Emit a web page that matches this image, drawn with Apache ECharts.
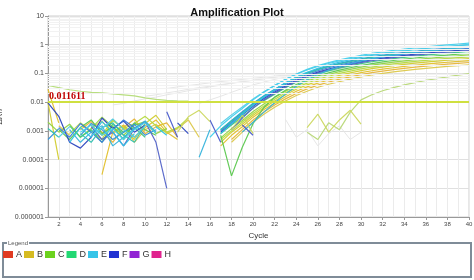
<!DOCTYPE html>
<html>
<head>
<meta charset="utf-8">
<script src="https://cdn.jsdelivr.net/npm/echarts@6/dist/echarts.min.js"></script>
<style>
  html, body { margin: 0; padding: 0; background: #fff; }
  #chart { width: 474px; height: 280px; }
</style>
</head>
<body>
<div id="chart"></div>
<script>
// cycle labels (x axis)
const cycles = ['1','2','3','4','5','6','7','8','9','10','11','12','13','14','15','16','17','18','19','20',
  '21','22','23','24','25','26','27','28','29','30','31','32','33','34','35','36','37','38','39','40'];

const legendNames = ['A', 'B', 'C', 'D', 'E', 'F', 'G', 'H'];
const legendColors = ['#e03a22', '#d6bb22', '#6cd21e', '#22d873', '#36c4e8', '#2233d2', '#9224d4', '#e0238e'];

const threshold = 0.011611;

// ΔRn per cycle, null = below zero (not drawn on log axis)
const cyan1 = [null,null,null,.0009,.0016,.0007,.0012,.0005,.0011,.0019, .0008,null,null,null,null,.0006,.0015,.0031,.006,.012,
  .022,.037,.062,.096,.138,.186,.237,.296,.357,.427, .497,.567,.637,.707,.777,.848,.918,.988,1.06,1.13];
const cyan2 = [.0007,null,.0004,.0013,.0006,.0021,.0009,.0003,.0008,null, .0014,.0007,null,null,null,null,.0008,.0018,.0038,.0078,
  .015,.027,.046,.075,.11,.152,.197,.248,.302,.362, .424,.486,.55,.612,.675,.738,.8,.862,.925,.99];
const cyan3 = [null,null,.0011,.0004,.0009,.0015,.0003,.0006,.0012,.0022, .0009,null,null,null,.00012,.0011,null,null,.0009,.002,
  .0045,.0095,.019,.036,.06,.092,.13,.172,.218,.268, .32,.375,.43,.487,.545,.603,.66,.72,.78,.84];
const cyan4 = [null,.0006,.0014,null,.0007,.0012,.0026,.0011,.0006,.0015, null,null,null,null,null,null,.0018,.0036,.0068,.0128,
  .023,.039,.062,.094,.132,.175,.222,.275,.33,.39, .45,.51,.572,.634,.695,.757,.818,.88,.94,1.03];
const teal1 = [.0012,.0006,null,.0008,.0004,.0013,.0019,.0007,.0004,.0016, null,null,null,null,null,null,.0011,.0022,.0043,.0087,
  .016,.027,.045,.07,.1,.135,.172,.215,.259,.31, .361,.412,.462,.513,.564,.615,.666,.717,.768,.82];
const blue3 = [.0005,.0012,null,.0007,.0018,.0011,.0005,.0009,.0017,.0007, .0011,null,null,null,null,null,.0011,.0023,.0046,.0091,
  .0168,.028,.047,.073,.105,.142,.18,.225,.272,.325, .378,.432,.485,.538,.592,.645,.698,.752,.806,.86];
const blue1 = [null,.0013,.0006,.0018,.0009,.0004,.0011,.0024,.0013,null, null,null,null,null,null,null,.001,.002,.004,.008,
  .0146,.025,.041,.064,.092,.124,.158,.197,.237,.284, .33,.377,.423,.47,.516,.563,.609,.656,.703,.75];
const blue2 = [.0095,.0032,.0004,.00025,.0006,.0028,.0012,.0022,.0009,.0016, null,null,.0019,.0008,null,null,.0009,.0018,.0036,.0072,
  .0133,.0224,.037,.058,.083,.112,.143,.178,.215,.257, .3,.341,.384,.426,.468,.51,.552,.594,.637,.68];
const slate1 = [null,null,null,null,.0014,.0005,.0009,.0003,.0012,.0021, .0004,.00001,null,null,null,null,null,.0011,.0028,.0062,
  .012,.0205,.034,.053,.077,.104,.133,.165,.2,.238, .277,.317,.356,.395,.434,.473,.512,.551,.59,.62];
const green1 = [.0008,null,.0015,.0006,.0011,.0004,.0017,.0009,.0013,.0006, null,null,null,null,null,null,.0008,.0016,.0031,.0062,
  .0113,.019,.032,.049,.071,.096,.122,.152,.183,.219, .255,.291,.327,.363,.399,.435,.471,.507,.543,.58];
const green2 = [null,.0011,.0005,.0013,.0024,.0008,.0014,.0005,.0019,.0011, .0007,null,null,null,null,null,.0007,.000027,.00027,.0018,
  .0065,.015,.026,.041,.06,.082,.105,.131,.158,.189, .22,.251,.282,.313,.344,.375,.406,.437,.468,.5];
const lime1 = [.002,.0009,.0017,.0006,.0012,.003,.0014,.0007,.0016,.0021, .0008,.0012,null,null,null,null,.00057,.0012,.0023,.0047,
  .0086,.0145,.024,.037,.054,.073,.092,.115,.139,.166, .194,.221,.248,.275,.303,.33,.357,.385,.412,.44];
const lime2 = [null,null,.0008,.0019,.001,.0005,.0023,.0012,.0018,.0032, .0015,.0009,.0013,.0028,null,null,.0005,.001,.002,.004,
  .0074,.0125,.021,.032,.046,.063,.08,.1,.12,.144, .167,.191,.214,.238,.261,.285,.309,.332,.356,.38];
const yellow1 = [.0098,.0001,null,null,.0016,.0007,.0025,.0012,.0005,.0018, .0035,.0011,null,null,null,null,.0004,.0009,.0017,.0035,
  .0064,.0109,.018,.028,.04,.054,.069,.086,.104,.125, .146,.166,.186,.207,.227,.248,.268,.288,.309,.33];
const yellow2 = [.028,.0019,null,null,null,.00003,.0009,.0016,.0006,.0013, .0024,.0009,.0005,null,null,null,.0003,.0007,.0014,.003,
  .0055,.0092,.0154,.024,.034,.046,.059,.073,.088,.106, .124,.141,.158,.175,.193,.21,.227,.245,.262,.28];
const gold1 = [null,null,null,.0011,.0021,.0009,.0004,.0013,.0026,.0008, .0014,.0019,.0006,null,null,null,null,.0005,.0011,.0024,
  .0045,.0079,.013,.02,.029,.039,.05,.063,.076,.091, .106,.12,.135,.15,.165,.18,.195,.21,.225,.24];
const gold2 = [null,.0015,.0007,null,.0012,.0022,.0008,.0015,.0004,.0011, .0017,.0008,.0012,.0024,.0006,null,null,.0004,.0009,.002,
  .0038,.0066,.011,.017,.024,.033,.042,.052,.063,.076, .088,.1,.113,.125,.138,.15,.163,.175,.188,.2];
const lateGreen = [null,null,null,null,null,null,null,null,null,null, null,null,null,null,null,null,null,null,null,null,
  null,null,null,null,.0009,.0005,.0019,.0011,.0045,.012, .018,.025,.032,.04,.048,.057,.066,.076,.087,.098];
const highStart = [.038,.032,.027,.024,.022,.021,.0195,.018,.0165,.014, .0125,.0115,.011,.0108,null,null,null,null,null,null,
  null,null,null,null,null,null,null,null,null,null, null,null,null,null,null,null,null,null,null,null];
const sparseBlue = [null,null,null,null,null,null,null,null,null,null, null,.0046,.0006,null,null,.0024,.0004,null,.0016,.0007,
  null,null,null,null,null,null,null,null,null,null, null,null,null,null,null,null,null,null,null,null];
const sparseYellow = [null,null,null,null,null,null,null,null,null,null, null,null,.0009,.0031,.0052,.0021,null,.0011,.0035,.0008,
  null,null,null,null,.0013,.0038,.0009,.0024,.0052,.0017, null,null,null,null,null,null,null,null,null,null];

// faint background wells
const grey1 = [null,null,null,null,null,null,null,null,null,.016, .018,.021,.024,.028,.032,.036,.041,.046,.052,.058,
  .065,.073,.082,.092,.103,.115,.128,.141,.155,.169, .183,.197,.211,.225,.239,.253,.267,.281,.295,.31];
const grey2 = [null,null,null,null,null,null,null,null,null,null, null,.03,.034,.038,.042,.047,.052,.057,.062,.068,
  .074,.081,.088,.096,.104,.113,.122,.132,.142,.152, .163,.174,.185,.196,.207,.218,.229,.24,.251,.262];
const grey3 = [null,null,null,null,null,null,null,null,null,null, null,null,null,null,.009,.012,.016,.022,.03,.04,
  .05,.062,.075,.089,.104,.12,.137,.155,.174,.194, .214,.234,.254,.274,.294,.314,.334,.354,.374,.394];
const grey4 = [null,null,null,null,null,null,.008,.009,.011,.013, .015,.018,.021,.025,.029,.034,.039,.045,.051,.058,
  .066,.075,.085,.096,.108,.121,.135,.15,.166,.183, .2,.218,.236,.254,.272,.29,.308,.326,.344,.362];
const greyNoise = [null,null,null,null,null,null,null,null,null,null, null,null,null,null,null,null,null,null,null,null,
  null,null,.0025,.0006,.0011,.0003,.0008,.0015,.0005,.0009, null,null,null,null,null,null,null,null,null,null];

const greyWells = [grey1, grey2, grey3, grey4, greyNoise];

const wells = [
  { data: gold2, color: '#dcc84c' },
  { data: gold1, color: '#e6b43a' },
  { data: yellow2, color: '#e2c02c' },
  { data: yellow1, color: '#d2cc30' },
  { data: lime2, color: '#b6da40' },
  { data: lime1, color: '#92d444' },
  { data: green2, color: '#5cc850' },
  { data: green1, color: '#3ec880' },
  { data: slate1, color: '#5464c8' },
  { data: blue2, color: '#2c46c0' },
  { data: blue1, color: '#3a7ad8' },
  { data: blue3, color: '#3090d8' },
  { data: teal1, color: '#30c0b0' },
  { data: cyan3, color: '#38b4dc' },
  { data: cyan2, color: '#2fc4e4' },
  { data: cyan4, color: '#52cce8' },
  { data: cyan1, color: '#45d0ec' },
  { data: lateGreen, color: '#b8d878' },
  { data: highStart, color: '#b4dc78' },
  { data: sparseBlue, color: '#4a5ccc' },
  { data: sparseYellow, color: '#ccd860' }
];

function logLabel(v) {
  const e = Math.round(Math.log10(v));
  return e >= 0 ? String(Math.pow(10, e)) : '0.' + '0'.repeat(-e - 1) + '1';
}

// minor log grid lines (2..9 in every decade)
const minorLines = [];
for (let e = -6; e < 1; e++) {
  for (let m = 2; m < 10; m++) minorLines.push({ yAxis: m * Math.pow(10, e) });
}

const chart = echarts.init(document.getElementById('chart'));

const series = [];

series.push({
  name: 'minor',
  type: 'line',
  data: cycles.map(() => null),
  silent: true,
  z: 1,
  markLine: {
    silent: true,
    symbol: 'none',
    animation: false,
    label: { show: false },
    lineStyle: { color: '#f2f2f2', width: 1, type: 'solid' },
    data: minorLines
  }
});

greyWells.forEach((d, i) => {
  series.push({
    name: 'g' + i,
    type: 'line',
    data: d,
    symbol: 'none',
    silent: true,
    z: 2,
    lineStyle: { color: '#e6e6e6', width: 1 }
  });
});

wells.forEach((w, i) => {
  series.push({
    name: 'w' + i,
    type: 'line',
    data: w.data,
    symbol: 'none',
    silent: true,
    z: 3,
    lineStyle: { color: w.color, width: 1.2, opacity: 0.95 }
  });
});

series.push({
  name: 'threshold',
  type: 'line',
  data: cycles.map(() => null),
  z: 5,
  markLine: {
    silent: true,
    symbol: 'none',
    animation: false,
    lineStyle: { color: '#cfe040', width: 2, type: 'solid' },
    label: {
      show: true,
      position: 'insideStartTop',
      distance: 1,
      formatter: String(threshold),
      color: '#c00000',
      fontFamily: 'Liberation Serif',
      fontWeight: 'bold',
      fontSize: 10
    },
    data: [{ yAxis: threshold }]
  }
});

legendNames.forEach((n, i) => {
  series.push({ name: n, type: 'line', data: [], color: legendColors[i] });
});

chart.setOption({
  animation: false,
  title: {
    text: 'Amplification Plot',
    left: 'center',
    top: 2,
    textStyle: { fontFamily: 'Liberation Sans', fontSize: 11, fontWeight: 'bold', color: '#111' }
  },
  grid: {
    left: 48, right: 5, top: 16, bottom: 63,
    outerBoundsMode: 'none',
    containLabel: false,
    show: true, borderColor: '#cfcfcf', borderWidth: 1
  },
  legend: {
    data: legendNames,
    left: 3,
    top: 250,
    padding: 0,
    icon: 'rect',
    itemWidth: 10,
    itemHeight: 7,
    itemGap: 2,
    selectedMode: false,
    textStyle: { fontFamily: 'Liberation Sans', fontSize: 9, color: '#333', padding: [0, 0, 0, -2] }
  },
  xAxis: {
    type: 'category',
    data: cycles,
    boundaryGap: false,
    name: 'Cycle',
    nameLocation: 'middle',
    nameGap: 15,
    nameTextStyle: { fontFamily: 'Liberation Sans', fontSize: 8, color: '#333' },
    axisLine: { lineStyle: { color: '#999' } },
    axisTick: { interval: (i) => i % 2 === 1, length: 3, lineStyle: { color: '#999' } },
    axisLabel: { interval: (i) => i % 2 === 1, fontSize: 6, color: '#444', margin: 4 },
    splitLine: { show: true, interval: 0, lineStyle: { color: '#ebebeb' } }
  },
  yAxis: {
    type: 'log',
    logBase: 10,
    min: 1e-6,
    max: 10,
    name: 'ΔRn',
    nameLocation: 'middle',
    nameGap: 36,
    nameTextStyle: { fontFamily: 'Liberation Sans', fontSize: 8, color: '#333', fontStyle: 'italic' },
    axisLine: { show: true, lineStyle: { color: '#999' } },
    axisTick: { show: true, length: 3, lineStyle: { color: '#999' } },
    axisLabel: { formatter: logLabel, fontSize: 7, color: '#444', margin: 4 },
    splitLine: { show: true, lineStyle: { color: '#e0e0e0' } }
  },
  graphic: [
    {
      type: 'rect',
      shape: { x: 3, y: 243, width: 468, height: 34 },
      style: { fill: 'none', stroke: '#7f8c98', lineWidth: 2 },
      silent: true
    },
    {
      type: 'text',
      x: 7,
      y: 243,
      style: {
        text: 'Legend',
        fontSize: 6,
        fontFamily: 'Liberation Sans',
        fill: '#555',
        backgroundColor: '#fff',
        padding: [0, 1],
        verticalAlign: 'middle'
      },
      silent: true
    }
  ],
  series: series
});
</script>
</body>
</html>
